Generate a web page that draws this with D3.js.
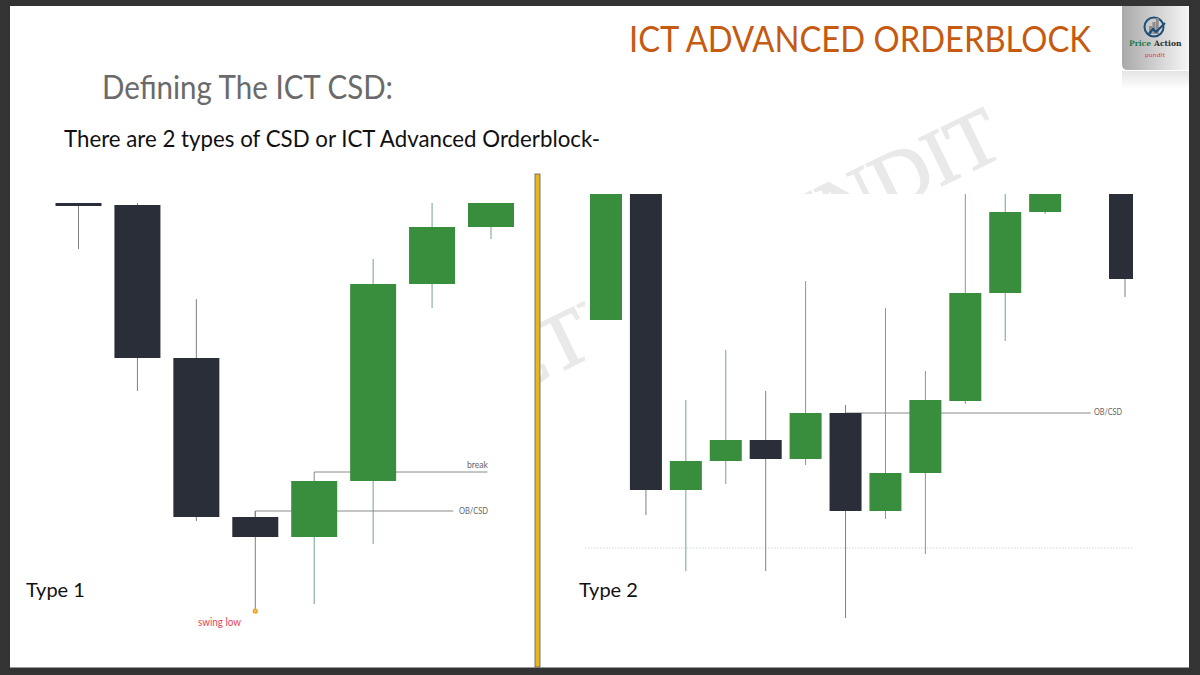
<!DOCTYPE html>
<html>
<head>
<meta charset="utf-8">
<title>ICT Advanced Orderblock</title>
<script src="https://cdn.jsdelivr.net/npm/d3@7"></script>
<style>
  html, body { margin: 0; padding: 0; background: #333; }
  svg { display: block; }
  text { font-family: Lato, "Open Sans", sans-serif; }
</style>
</head>
<body>
<div id="chart"></div>
<script>
// price units are arbitrary, the reference has no axis
const leftOpen  = [417, 415, 262, 103,  83, 139, 336, 393];
const leftClose = [414, 262, 103,  83, 139, 336, 393, 417];
const leftHigh  = [417, 417, 321, 109, 139, 361, 417, 417];
const leftLow   = [371, 229,  99,   9,  16,  76, 312, 381];

// index 12 is an empty slot in the reference
const rightOpen  = [300, 426, 130, 159, 180, 161, 207, 109, 147, 219, 327, 408, null, 426];
const rightClose = [426, 130, 159, 180, 161, 207, 109, 147, 220, 327, 408, 426, null, 341];
const rightHigh  = [426, 426, 220, 270, 229, 339, 215, 312, 249, 426, 426, 426, null, 426];
const rightLow   = [300, 105,  49, 136,  49, 155,   2, 101,  66, 216, 279, 406, null, 323];

const swingLowPrice = 9;
const dottedPrice = 72;

const leftLevels = [
  { label: 'OB/CSD', from: 3, anchor: 103, price: 109, to: 6.36 },
  { label: 'break',  from: 4, anchor: 139, price: 148, to: 6.94 }
];
const rightLevels = [
  { label: 'OB/CSD', from: 6, anchor: 207, price: 207, to: 12.14 }
];

const DARK = '#2a2e39';
const GREEN = '#388e3c';

const svg = d3.select('#chart').append('svg')
  .attr('width', 1200).attr('height', 675)
  .attr('viewBox', '0 0 1200 675');

const defs = svg.append('defs');
const logoGrad = defs.append('linearGradient').attr('id', 'logoGrad');
logoGrad.append('stop').attr('offset', '0%').attr('stop-color', '#a9a9a9');
logoGrad.append('stop').attr('offset', '100%').attr('stop-color', '#f6f6f6');
const reflGrad = defs.append('linearGradient').attr('id', 'reflGrad')
  .attr('x1', 0).attr('x2', 0).attr('y1', 0).attr('y2', 1);
reflGrad.append('stop').attr('offset', '0%').attr('stop-color', '#e4e4e4');
reflGrad.append('stop').attr('offset', '100%').attr('stop-color', '#ffffff');
defs.append('clipPath').attr('id', 'rightClip').append('rect')
  .attr('x', 585).attr('y', 194).attr('width', 548).attr('height', 473);

// slide
svg.append('rect').attr('width', 1200).attr('height', 675).attr('fill', '#333');
svg.append('rect').attr('x', 10).attr('y', 6).attr('width', 1179).attr('height', 661)
  .attr('fill', '#fff');
svg.append('rect').attr('x', 10).attr('y', 667).attr('width', 1179).attr('height', 1)
  .attr('fill', '#9a9a9a');

// watermark, mostly hidden behind the two chart pictures
svg.append('text')
  .attr('transform', 'translate(1007,154) rotate(-26)')
  .attr('text-anchor', 'end')
  .style('font-family', '"Liberation Serif", serif')
  .attr('font-size', 80)
  .attr('fill', '#e9e9e9')
  .attr('stroke', '#e9e9e9').attr('stroke-width', 1.6)
  .text('PRICE ACTION PUNDIT');
svg.append('rect').attr('x', 10).attr('y', 174).attr('width', 525).attr('height', 493).attr('fill', '#fff');
svg.append('rect').attr('x', 585).attr('y', 194).attr('width', 548).attr('height', 473).attr('fill', '#fff');

// headings
svg.append('text').attr('x', 629).attr('y', 52)
  .attr('font-size', 37).attr('fill', '#c55a11')
  .attr('textLength', 462).attr('lengthAdjust', 'spacingAndGlyphs')
  .text('ICT ADVANCED ORDERBLOCK');
svg.append('text').attr('x', 102).attr('y', 99)
  .attr('font-size', 33).attr('fill', '#6a6a6a')
  .attr('textLength', 291).attr('lengthAdjust', 'spacingAndGlyphs')
  .text('Defining The ICT CSD:');
svg.append('text').attr('x', 64).attr('y', 147)
  .attr('font-size', 23.5).attr('fill', '#111')
  .attr('textLength', 536).attr('lengthAdjust', 'spacingAndGlyphs')
  .text('There are 2 types of CSD or ICT Advanced Orderblock-');

// logo
const logo = svg.append('g');
logo.append('path')
  .attr('d', 'M1122,6H1189V70H1128Q1122,70 1122,64Z')
  .attr('fill', 'url(#logoGrad)');
logo.append('rect').attr('x', 1122).attr('y', 71).attr('width', 67).attr('height', 18)
  .attr('fill', 'url(#reflGrad)');
logo.append('circle').attr('cx', 1154).attr('cy', 27).attr('r', 9.5)
  .attr('fill', 'none').attr('stroke', '#1f4e79').attr('stroke-width', 2);
logo.selectAll('rect.bar').data([6, 10, 14]).join('rect')
  .attr('class', 'bar')
  .attr('x', (d, i) => 1149 + i * 3.4).attr('y', d => 34 - d - 2)
  .attr('width', 3).attr('height', d => d + 2).attr('fill', '#8d8d8d');
logo.append('path').attr('d', 'M1148,35L1153,29L1156,32L1165,23')
  .attr('fill', 'none').attr('stroke', '#1f4e79').attr('stroke-width', 2.2);
logo.append('text').attr('x', 1151).attr('y', 45.5)
  .attr('text-anchor', 'end').attr('font-size', 7.6).attr('font-weight', 700)
  .style('font-family', '"DejaVu Serif", serif')
  .attr('fill', '#1f7a4d').text('Price');
logo.append('text').attr('x', 1154).attr('y', 45.5)
  .attr('font-size', 7.6).attr('font-weight', 700)
  .style('font-family', '"DejaVu Serif", serif')
  .attr('fill', '#2b2b2b').text('Action');
logo.append('text').attr('x', 1155).attr('y', 57)
  .attr('text-anchor', 'middle').attr('font-size', 6.5).attr('fill', '#e03a55')
  .attr('letter-spacing', 0.3).text('pundit');

function drawCandles(parent, x, y, bodyWidth, opens, closes, highs, lows) {
  const candles = opens.map((o, i) => ({ i, o, c: closes[i], h: highs[i], l: lows[i] }))
    .filter(d => d.o != null);
  const up = d => d.c >= d.o;

  parent.selectAll('line.wick').data(candles).join('line')
    .attr('class', 'wick')
    .attr('x1', d => x(d.i)).attr('x2', d => x(d.i))
    .attr('y1', d => y(d.h)).attr('y2', d => y(d.l))
    .attr('stroke', d => up(d) ? '#72a096' : '#7b8080')
    .attr('stroke-width', 1);

  parent.selectAll('rect.body').data(candles).join('rect')
    .attr('class', 'body')
    .attr('x', d => x(d.i) - bodyWidth / 2)
    .attr('y', d => y(Math.max(d.o, d.c)))
    .attr('width', bodyWidth)
    .attr('height', d => Math.abs(y(d.o) - y(d.c)))
    .attr('fill', d => up(d) ? GREEN : DARK);
}

function drawLevels(parent, x, y, levels) {
  parent.selectAll('path.level').data(levels).join('path')
    .attr('class', 'level')
    .attr('d', d => `M${x(d.from)},${y(d.anchor)}V${y(d.price)}H${x(d.to)}`)
    .attr('fill', 'none').attr('stroke', '#8a8a8a').attr('stroke-width', 1);
}

function levelLabel(parent, px, py, width, label) {
  parent.append('text').attr('x', px).attr('y', py)
    .attr('font-size', 9).attr('fill', '#666')
    .attr('textLength', width).attr('lengthAdjust', 'spacingAndGlyphs')
    .text(label);
}

const y = d3.scaleLinear().domain([0, 480]).range([620, 140]);

// left chart
const xLeft = d3.scaleLinear().domain([0, 7]).range([78.5, 491]);
const leftG = svg.append('g');
drawLevels(leftG, xLeft, y, leftLevels);
drawCandles(leftG, xLeft, y, 46, leftOpen, leftClose, leftHigh, leftLow);

levelLabel(leftG, 467, y(leftLevels[1].price) - 4, 21, leftLevels[1].label);
levelLabel(leftG, 459, y(leftLevels[0].price) + 3, 29, leftLevels[0].label);

leftG.append('circle').attr('cx', xLeft(3)).attr('cy', y(swingLowPrice)).attr('r', 2)
  .attr('fill', '#f2c14e').attr('stroke', '#f09a1e').attr('stroke-width', 1.2);
leftG.append('text').attr('x', 198).attr('y', 626)
  .attr('font-size', 10.5).attr('fill', '#e8435a')
  .attr('textLength', 43).attr('lengthAdjust', 'spacingAndGlyphs').text('swing low');
leftG.append('text').attr('x', 26).attr('y', 597)
  .attr('font-size', 20).attr('fill', '#111').text('Type 1');

// right chart, candles are cut by the picture edge
const xRight = d3.scaleLinear().domain([0, 13]).range([606, 1125]);
const rightG = svg.append('g');
const rightPlot = rightG.append('g').attr('clip-path', 'url(#rightClip)');
rightPlot.append('line')
  .attr('x1', 585).attr('x2', 1133)
  .attr('y1', y(dottedPrice)).attr('y2', y(dottedPrice))
  .attr('stroke', '#d3d9d5').attr('stroke-width', 1).attr('stroke-dasharray', '1.5 1.5');
drawLevels(rightPlot, xRight, y, rightLevels);
drawCandles(rightPlot, xRight, y, 32, rightOpen, rightClose, rightHigh, rightLow);

levelLabel(rightG, 1094, y(rightLevels[0].price) + 2, 28, rightLevels[0].label);
rightG.append('text').attr('x', 579).attr('y', 597)
  .attr('font-size', 20).attr('fill', '#111').text('Type 2');

// divider
svg.append('rect').attr('x', 535).attr('y', 174).attr('width', 5).attr('height', 493)
  .attr('fill', '#e8b71d').attr('stroke', '#5c5c5c').attr('stroke-width', 0.8);
</script>
</body>
</html>
